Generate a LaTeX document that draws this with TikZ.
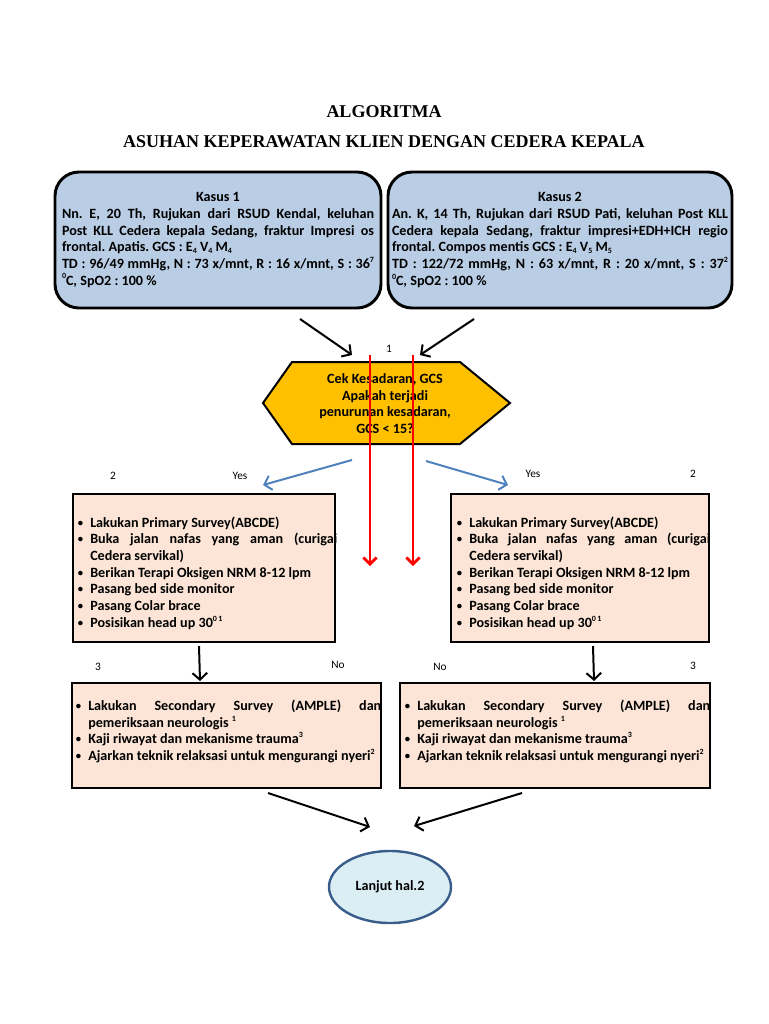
\documentclass[tikz,border=0pt]{standalone}
\usepackage{fontspec}
\usepackage{graphicx}
\setmainfont{Carlito}
\newfontfamily\titlefont{Liberation Serif}
\usetikzlibrary{arrows.meta,shapes.geometric}
\definecolor{kasusblue}{HTML}{B9CDE5}
\definecolor{hexgold}{HTML}{FFC000}
\definecolor{peach}{HTML}{FCE5D6}
\definecolor{ellfill}{HTML}{DBEEF4}
\definecolor{ellline}{HTML}{385D8A}
\definecolor{arrblue}{HTML}{4F81BD}
\definecolor{redline}{HTML}{FF0000}
\frenchspacing
\newcommand\mybul{\raisebox{0.15ex}{\scalebox{0.75}{\textbullet}}}
\newcommand\bitem[1]{\par\noindent\hangindent=10.5pt\hangafter=1\hbox to 10.5pt{\hskip1.2pt\mybul\hfil}#1}
\newcommand\boxfont{\fontsize{10.6}{12.5}\selectfont\bfseries\parindent=0pt\frenchspacing}
\newcommand\subs[1]{\raisebox{-0.3ex}{\fontsize{6}{6}\selectfont #1}}
\newcommand\sups[1]{\raisebox{0.9ex}{\fontsize{6}{6}\selectfont #1}}
\begin{document}
\begin{tikzpicture}[x=0.75pt,y=-0.75pt,
  kasusbox/.style={draw=black, line width=2.2pt, fill=kasusblue, rounded corners=18pt, inner sep=0},
  peachbox/.style={draw=black, line width=2pt, fill=peach, inner sep=0},
  boxtext/.style={inner sep=0, align=justify, font=\boxfont},
  centertext/.style={inner sep=0, align=center, font=\boxfont},
  smalllabel/.style={inner sep=0, font=\fontsize{8.5}{10}\selectfont},
  titletext/.style={inner sep=0, font=\titlefont\bfseries\fontsize{13.5}{15}\selectfont},
  arr/.style={line width=1.5pt, -{Straight Barb[length=5pt,width=11pt]}},
  bluearr/.style={arr, draw=arrblue},
  redarr/.style={line width=2pt, draw=redline, -{Straight Barb[length=5pt,width=10pt]}},
  hexshape/.style={draw=black, line width=1.5pt, fill=hexgold},
  ellshape/.style={ellipse, draw=ellline, line width=1.8pt, fill=ellfill, inner sep=0}]
\useasboundingbox (0,0) rectangle (768,1024);

% titles
\node[titletext] (t1) at (384,112) {ALGORITMA};
\node[titletext] (t2) at (384,142) {ASUHAN KEPERAWATAN KLIEN DENGAN CEDERA KEPALA};

% kasus boxes
\node[kasusbox, minimum width=244.5pt, minimum height=102pt] (k1) at (218,240) {};
\node[boxtext, text width=234pt] (k1t) at (218,240) {\hspace*{\fill}Kasus 1\hspace*{\fill}\par Nn. E, 20 Th, Rujukan dari RSUD Kendal, keluhan\linebreak Post KLL Cedera kepala Sedang, fraktur Impresi os\linebreak frontal. Apatis. GCS : E\subs{4} V\subs{4} M\subs{4}\par TD : 96/49 mmHg, N : 73 x/mnt, R : 16 x/mnt, S : 36\sups{7}\linebreak \sups{0}C, SpO2 : 100 \%};

\node[kasusbox, minimum width=258pt, minimum height=102pt] (k2) at (560,240) {};
\node[boxtext, text width=252pt] (k2t) at (560,240) {\hspace*{\fill}Kasus 2\hspace*{\fill}\par An. K, 14 Th, Rujukan dari RSUD Pati, keluhan Post KLL\linebreak Cedera kepala Sedang, fraktur impresi+EDH+ICH regio\linebreak frontal. Compos mentis GCS : E\subs{4} V\subs{5} M\subs{5}\par TD : 122/72 mmHg, N : 63 x/mnt, R : 20 x/mnt, S : 37\sups{2}\linebreak \sups{0}C, SpO2 : 100 \%};

% hexagon
\draw[hexshape] (263,403) -- (292,362) -- (460,362) -- (510,403) -- (460,444) -- (292,444) -- cycle;
\node[centertext] (hex) at (385,403.5) {Cek Kesadaran, GCS\\Apakah terjadi\\penurunan kesadaran,\\GCS < 15?};

% arrows into hexagon
\coordinate (a1s) at (300,319);
\coordinate (a1e) at (352,355);
\coordinate (a2s) at (474,319);
\coordinate (a2e) at (420,355);
\draw[arr] (a1s) -- (a1e);
\draw[arr] (a2s) -- (a2e);
\node[smalllabel] (n1) at (389,349) {1};

% primary boxes
\node[peachbox, minimum width=196.5pt, minimum height=111pt] (p1) at (204,568) {};
\node[boxtext, text width=195.75pt, anchor=west] (p1t) at (76,570) {\bitem{Lakukan Primary Survey(ABCDE)}\bitem{Buka jalan nafas yang aman (curigai\linebreak Cedera servikal)}\bitem{Berikan Terapi Oksigen NRM 8-12 lpm}\bitem{Pasang bed side monitor}\bitem{Pasang Colar brace}\bitem{Posisikan head up 30\sups{0\,1}}};

\node[peachbox, minimum width=193.5pt, minimum height=111pt] (p2) at (580,568) {};
\node[boxtext, text width=191.25pt, anchor=west] (p2t) at (455,570) {\bitem{Lakukan Primary Survey(ABCDE)}\bitem{Buka jalan nafas yang aman (curigai\linebreak Cedera servikal)}\bitem{Berikan Terapi Oksigen NRM 8-12 lpm}\bitem{Pasang bed side monitor}\bitem{Pasang Colar brace}\bitem{Posisikan head up 30\sups{0\,1}}};

% red lines
\coordinate (r1s) at (370,355);
\coordinate (r1e) at (370,566);
\coordinate (r2s) at (413,355);
\coordinate (r2e) at (413,566);
\draw[redarr] (r1s) -- (r1e);
\draw[redarr] (r2s) -- (r2e);

% blue arrows
\coordinate (b1s) at (352,460);
\coordinate (b1e) at (263,485);
\coordinate (b2s) at (426,461);
\coordinate (b2e) at (508,485);
\draw[bluearr] (b1s) -- (b1e);
\draw[bluearr] (b2s) -- (b2e);
\node[smalllabel] (l2a) at (113,476) {2};
\node[smalllabel] (ly1) at (240,476) {Yes};
\node[smalllabel] (ly2) at (533,474) {Yes};
\node[smalllabel] (l2b) at (693,474) {2};

% secondary boxes
\node[peachbox, minimum width=231.75pt, minimum height=78.75pt] (s1) at (226.5,735.5) {};
\node[boxtext, text width=230.25pt, anchor=west] (s1t) at (74,728.5) {\bitem{Lakukan Secondary Survey (AMPLE) dan\linebreak pemeriksaan neurologis \sups{1}}\bitem{Kaji riwayat dan mekanisme trauma\sups{3}}\bitem{Ajarkan teknik relaksasi untuk mengurangi nyeri\sups{2}}};

\node[peachbox, minimum width=232.5pt, minimum height=78.75pt] (s2) at (555,735.5) {};
\node[boxtext, text width=230.25pt, anchor=west] (s2t) at (403,728.5) {\bitem{Lakukan Secondary Survey (AMPLE) dan\linebreak pemeriksaan neurologis \sups{1}}\bitem{Kaji riwayat dan mekanisme trauma\sups{3}}\bitem{Ajarkan teknik relaksasi untuk mengurangi nyeri\sups{2}}};

% down arrows
\coordinate (d1s) at (199,646);
\coordinate (d1e) at (200,681);
\coordinate (d2s) at (593,646);
\coordinate (d2e) at (594,681);
\draw[arr] (d1s) -- (d1e);
\draw[arr] (d2s) -- (d2e);
\node[smalllabel] (l3a) at (98,667) {3};
\node[smalllabel] (lna) at (338,665) {No};
\node[smalllabel] (lnb) at (440,667) {No};
\node[smalllabel] (l3b) at (693,666) {3};

% bottom arrows
\coordinate (e1s) at (268,793);
\coordinate (e1e) at (370,827);
\coordinate (e2s) at (522,793);
\coordinate (e2e) at (414,826);
\draw[arr] (e1s) -- (e1e);
\draw[arr] (e2s) -- (e2e);

% ellipse
\node[ellshape, minimum width=91.5pt, minimum height=54pt, font=\boxfont] (ell) at (390,887) {Lanjut hal.2};
\end{tikzpicture}
\end{document}
